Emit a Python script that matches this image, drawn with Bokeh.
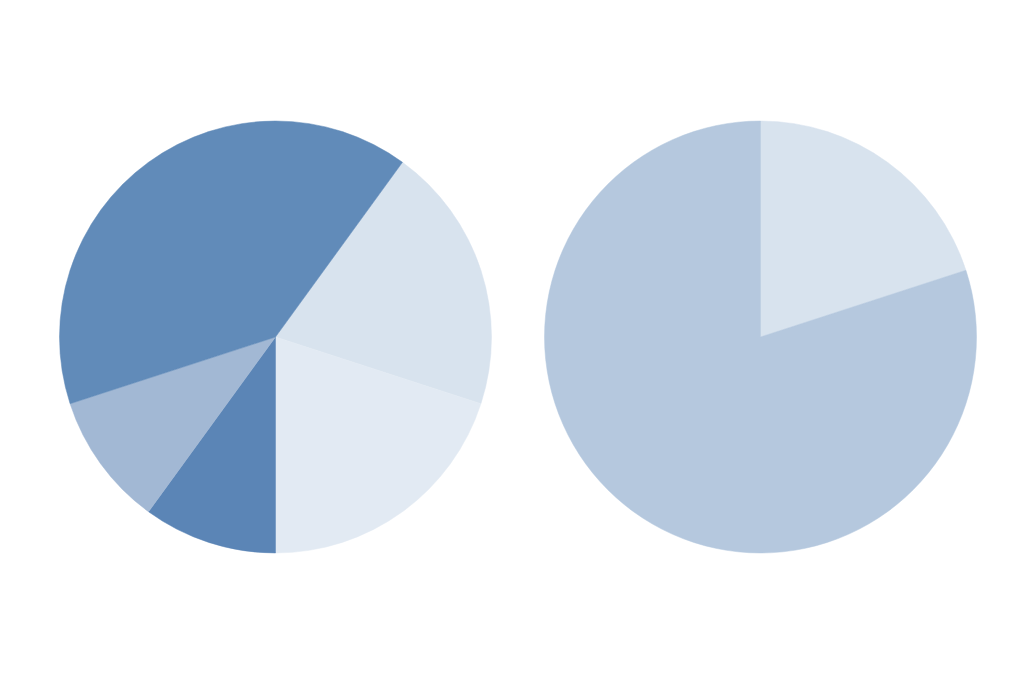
import numpy as np
from bokeh.plotting import figure
from bokeh.models import Range1d, ColumnDataSource
from bokeh.embed import file_html
from bokeh.resources import INLINE

# Left pie data (clockwise from its first boundary)
left_categories = ["B", "C", "D", "E", "A"]
left_values = [20, 20, 10, 10, 40]
left_colors = ["#d8e3ee", "#e2eaf3", "#5b85b6", "#a2b8d4", "#618bb9"]
left_start_deg = 36  # clockwise from 12 o'clock

# Right pie data
right_categories = ["B", "A"]
right_values = [20, 80]
right_colors = ["#d8e3ee", "#b5c8de"]
right_start_deg = 0

W, H = 1008, 658
p = figure(width=W, height=H, output_backend="svg", toolbar_location=None,
           x_range=Range1d(0, W), y_range=Range1d(0, H),
           min_border=0, outline_line_color=None)
p.axis.visible = False
p.grid.visible = False
p.background_fill_color = "white"
p.border_fill_color = "white"


def wedge_source(cats, vals, colors, start_deg, cx, cy):
    vals = np.asarray(vals, dtype=float)
    frac = vals / vals.sum()
    cum = np.concatenate([[0], np.cumsum(frac)]) * 2 * np.pi + np.deg2rad(start_deg)
    c0, c1 = cum[:-1], cum[1:]
    return ColumnDataSource(dict(
        cat=cats, value=list(vals), color=colors,
        start=list(np.pi / 2 - c1), end=list(np.pi / 2 - c0),
        x=[cx] * len(cats), y=[cy] * len(cats)))


R = 216
CY = H - 336.5
src_l = wedge_source(left_categories, left_values, left_colors, left_start_deg, 275, CY)
src_r = wedge_source(right_categories, right_values, right_colors, right_start_deg, 760, CY)

for src in (src_l, src_r):
    p.wedge(x="x", y="y", radius=R, start_angle="start", end_angle="end",
            fill_color="color", line_color="color", line_width=0.5, source=src)

open("out.html", "w").write(file_html(p, INLINE))
